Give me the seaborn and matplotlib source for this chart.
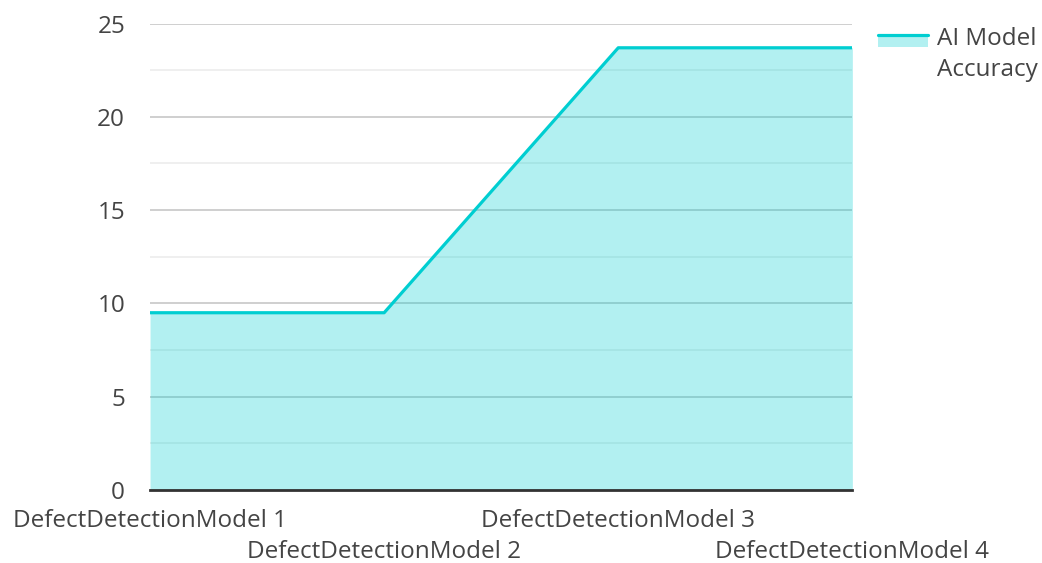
import matplotlib
matplotlib.use('Agg')
import matplotlib.pyplot as plt
import matplotlib.transforms as mtransforms
import seaborn as sns
import pandas as pd
from matplotlib.legend_handler import HandlerBase
from matplotlib.patches import Rectangle
from matplotlib.lines import Line2D

# Данные
models = ['DefectDetectionModel 1', 'DefectDetectionModel 2',
          'DefectDetectionModel 3', 'DefectDetectionModel 4']
accuracy = [9.5, 9.5, 23.7, 23.7]
series_name = 'AI Model\nAccuracy'

line_color = '#00CED1'
text_color = '#444444'
fs = 17.5

sns.set_style('white')
plt.rcParams['font.family'] = ['Open Sans', 'DejaVu Sans']

df = pd.DataFrame({'model': range(len(models)), 'accuracy': accuracy})

fig = plt.figure(figsize=(10.42, 5.63), dpi=100)
ax = fig.add_axes([0.144, 0.1297, 0.674, 0.8285])

ax.fill_between(df['model'], df['accuracy'], 0, color=line_color, alpha=0.3,
                linewidth=0, zorder=3)
sns.lineplot(data=df, x='model', y='accuracy', ax=ax, color=line_color,
             linewidth=2.3, zorder=4)

ax.set_xlim(0, len(models) - 1)
ax.set_ylim(0, 25)
ax.set_yticks([0, 5, 10, 15, 20, 25])
ax.set_yticks([2.5, 7.5, 12.5, 17.5, 22.5], minor=True)
ax.grid(True, which='major', axis='y', color='#cccccc', linewidth=1.3, zorder=1)
ax.grid(True, which='minor', axis='y', color='#eeeeee', linewidth=1.3, zorder=1)
ax.set_axisbelow(True)

# Подписи по оси X в шахматном порядке
ax.set_xticks(range(len(models)))
ax.set_xticklabels(models)
ax.tick_params(axis='both', which='both', length=0, labelsize=fs,
               labelcolor=text_color)
ax.tick_params(axis='x', pad=14)
ax.tick_params(axis='y', pad=18)
ax.set_xlabel('')
ax.set_ylabel('')
shift = mtransforms.ScaledTranslation(0, -31 / 100, fig.dpi_scale_trans)
for i, lbl in enumerate(ax.get_xticklabels()):
    if i % 2 == 1:
        lbl.set_transform(lbl.get_transform() + shift)

for s in ['top', 'right', 'left']:
    ax.spines[s].set_visible(False)
ax.spines['bottom'].set_color('#333333')
ax.spines['bottom'].set_linewidth(2)
ax.spines['bottom'].set_zorder(5)


# Значок легенды: линия сверху и заливка под ней, на уровне первой строки
class AreaHandler(HandlerBase):
    def create_artists(self, legend, orig_handle, xdescent, ydescent,
                       width, height, fontsize, trans):
        top = -ydescent + height
        line_y = top + 0.03 * fontsize
        fill_bottom = line_y - 0.5 * fontsize
        rect = Rectangle((-xdescent, fill_bottom), width, line_y - fill_bottom,
                         facecolor=line_color, alpha=0.3, edgecolor='none',
                         transform=trans)
        line = Line2D([-xdescent, -xdescent + width], [line_y, line_y],
                      color=line_color, linewidth=2.3, transform=trans)
        return [rect, line]


proxy = Rectangle((0, 0), 1, 1)
leg = fig.legend([proxy], [series_name], handler_map={Rectangle: AreaHandler()},
                 loc='upper left', bbox_to_anchor=(878 / 1042, 1 - 27 / 563),
                 frameon=False, borderpad=0, borderaxespad=0,
                 fontsize=fs, handlelength=2.06, handleheight=2.2,
                 handletextpad=0.37, labelcolor=text_color)
for t in leg.get_texts():
    t.set_linespacing(1.38)

plt.savefig('out.png', dpi=100)
